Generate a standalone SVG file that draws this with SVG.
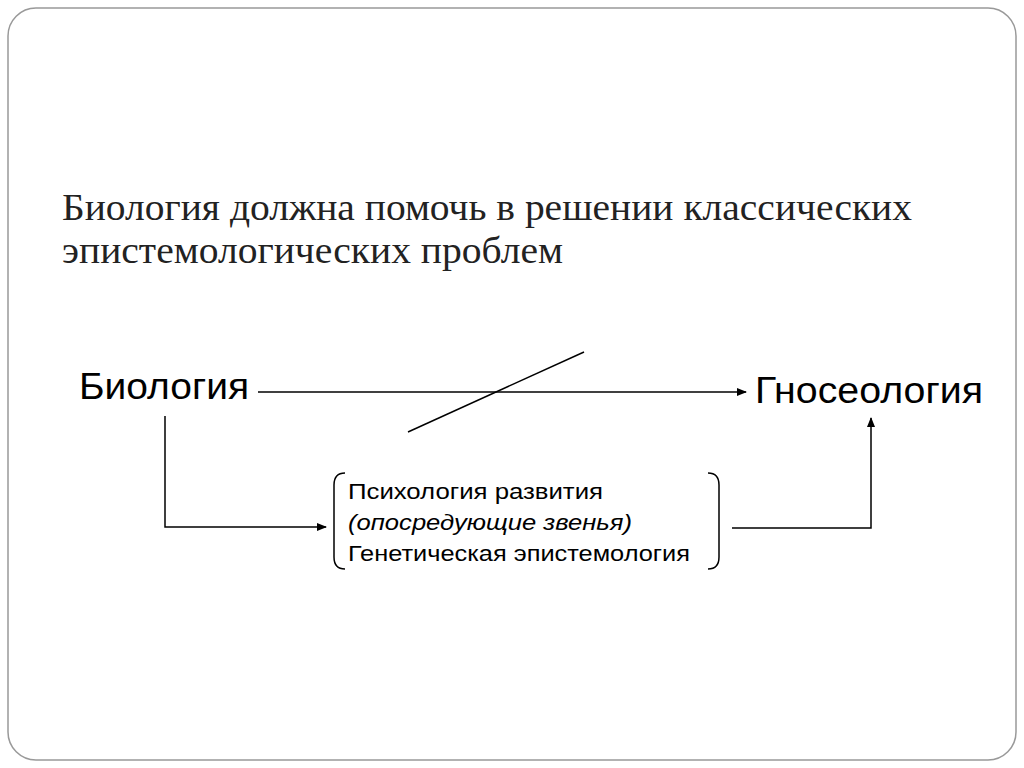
<svg xmlns="http://www.w3.org/2000/svg" width="1024" height="768" viewBox="0 0 1024 768">
<defs><marker id="ah" markerWidth="10" markerHeight="8" refX="9" refY="4" orient="auto" markerUnits="userSpaceOnUse"><path d="M0,0 L10,4 L0,8 Z" fill="#000"/></marker>
<style>.s{font-family:"Liberation Sans",Arial,sans-serif;fill:#000}.c{stroke:#000;stroke-width:1.5;fill:none}</style></defs>
<rect width="1024" height="768" fill="#fff"/>
<rect x="8" y="8" width="1008" height="752" rx="28" fill="#fff" stroke="#999" stroke-width="1.5"/>
<g id="title"><text x="62" y="220" font-family="Liberation Serif,serif" font-size="38" textLength="850" lengthAdjust="spacingAndGlyphs" fill="#222">Биология должна помочь в решении классических</text>
<text x="62" y="263" font-family="Liberation Serif,serif" font-size="38" textLength="501" lengthAdjust="spacingAndGlyphs" fill="#222">эпистемологических проблем</text></g>
<g id="bio"><text class="s" x="79" y="399" font-size="36" textLength="170" lengthAdjust="spacingAndGlyphs">Биология</text></g>
<g id="gno"><text class="s" x="755" y="403" font-size="36" textLength="228" lengthAdjust="spacingAndGlyphs">Гносеология</text></g>
<g id="mid"><path class="c" d="M345,473 Q334,473 334,485 V557 Q334,569 345,569"/><path class="c" d="M708,473 Q719,473 719,485 V557 Q719,569 708,569"/>
<text class="s" x="348" y="499" font-size="22" textLength="255" lengthAdjust="spacingAndGlyphs">Психология развития</text>
<text class="s" x="348" y="530" font-size="22" font-style="italic" textLength="284" lengthAdjust="spacingAndGlyphs">(опосредующие звенья)</text>
<text class="s" x="348" y="561" font-size="22" textLength="342" lengthAdjust="spacingAndGlyphs">Генетическая эпистемология</text></g>
<g id="connectors"><line class="c" x1="258" y1="392" x2="746" y2="392" marker-end="url(#ah)"/>
<line class="c" x1="408" y1="432" x2="584" y2="352"/>
<polyline class="c" points="165,416 165,527 326,527" marker-end="url(#ah)"/>
<polyline class="c" points="732,528 871,528 871,418" marker-end="url(#ah)"/></g>
</svg>
